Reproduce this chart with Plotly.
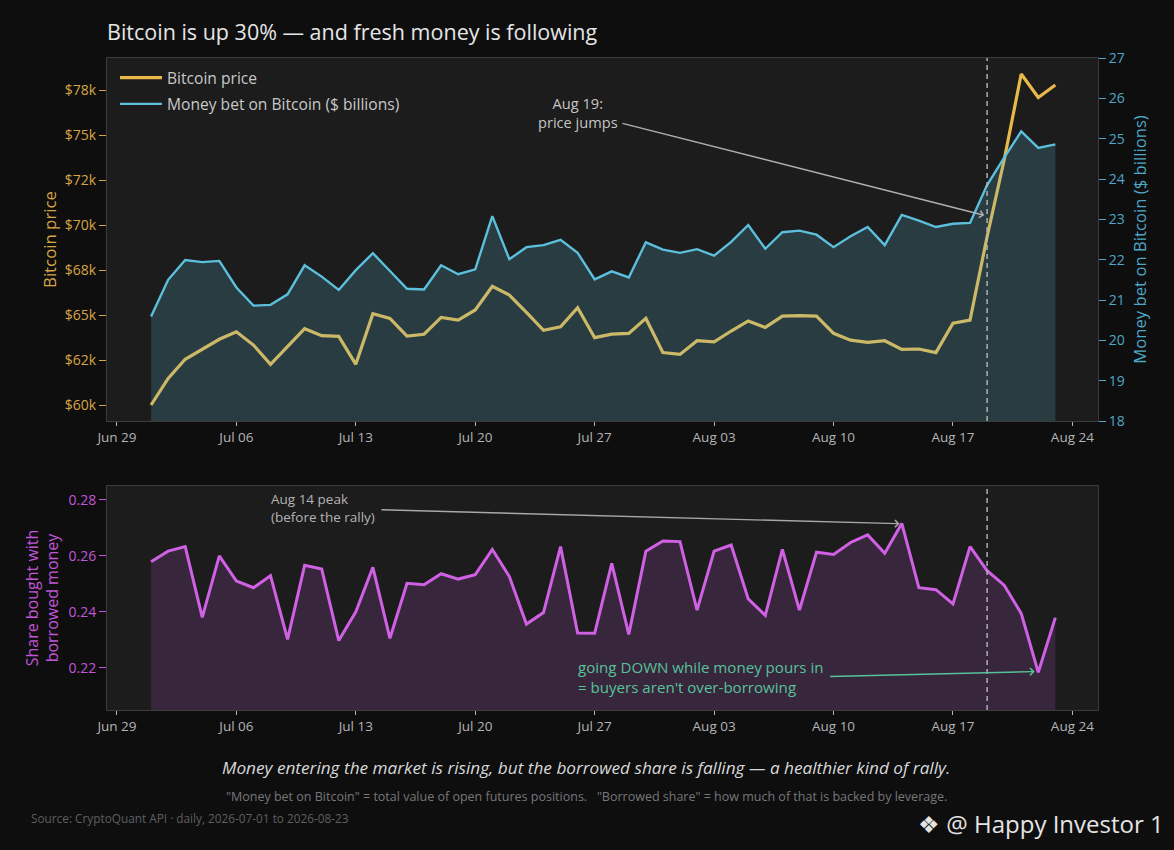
import pandas as pd
import plotly.graph_objs as go

W, H = 1174, 850
FONT = "Open Sans"
BG = "#0e0e0f"
PANEL = "#1c1c1c"
SPINE = "#3c3c3c"
GREY = "#b4b4b4"
YELLOW = "#e8b84a"
BLUE = "#5cbfdc"
PURPLE = "#d060e4"
GREEN = "#57c29a"
YELLOW_TXT = "#d6a545"
BLUE_TXT = "#4fa6c6"
PURPLE_TXT = "#c255d8"

dates = pd.date_range("2026-07-01", "2026-08-23", freq="D")

price = [60000, 61480, 62540, 63110, 63650, 64070, 63330, 62260, 63240, 64240,
         63850, 63810, 62260, 65070, 64810, 63830, 63930, 64870, 64720, 65280,
         66590, 66110, 65150, 64150, 64350, 65410, 63740, 63940, 63980, 64810,
         62910, 62810, 63570, 63510, 64110, 64670, 64310, 64940, 64960, 64940,
         63980, 63600, 63480, 63570, 63090, 63110, 62910, 64540, 64720, 69350,
         73610, 78390, 77080, 77780]

money = [20.59, 21.50, 21.99, 21.94, 21.97, 21.31, 20.86, 20.88, 21.14, 21.86,
         21.58, 21.25, 21.74, 22.16, 21.72, 21.28, 21.26, 21.86, 21.64, 21.76,
         23.08, 22.01, 22.31, 22.36, 22.49, 22.17, 21.51, 21.71, 21.56, 22.43,
         22.25, 22.17, 22.26, 22.10, 22.44, 22.86, 22.27, 22.68, 22.72, 22.62,
         22.31, 22.58, 22.81, 22.36, 23.11, 22.97, 22.81, 22.89, 22.91, 23.85,
         24.53, 25.18, 24.77, 24.86]

borrowed = [0.2579, 0.2617, 0.2633, 0.2380, 0.2600, 0.2510, 0.2486, 0.2529, 0.2301, 0.2566,
            0.2553, 0.2297, 0.2400, 0.2559, 0.2305, 0.2502, 0.2497, 0.2536, 0.2517, 0.2533,
            0.2623, 0.2526, 0.2356, 0.2397, 0.2633, 0.2324, 0.2323, 0.2573, 0.2319, 0.2617,
            0.2653, 0.2651, 0.2406, 0.2617, 0.2639, 0.2446, 0.2387, 0.2623, 0.2406, 0.2613,
            0.2605, 0.2648, 0.2675, 0.2609, 0.2716, 0.2486, 0.2479, 0.2428, 0.2633, 0.2547,
            0.2495, 0.2394, 0.2183, 0.2379]

price_ticks = [60000, 62500, 65000, 67500, 70000, 72500, 75000, 77500]
price_labels = ["$60k", "$62k", "$65k", "$68k", "$70k", "$72k", "$75k", "$78k"]
money_ticks = [18, 19, 20, 21, 22, 23, 24, 25, 26, 27]
borrowed_ticks = [0.22, 0.24, 0.26, 0.28]
jump_day = "2026-08-19"


# pixel position in the page -> paper coords
def px(x):
    return x / W


def py(y):
    return 1 - y / H


fig = go.Figure()

# legendgroups only so tracegroupgap can open up the legend rows
fig.add_trace(go.Scatter(x=dates, y=price, name="Bitcoin price", mode="lines", legendgroup="a",
                         line=dict(color=YELLOW, width=3.2), xaxis="x", yaxis="y"))
# fill is its own trace so the legend only shows the line
fig.add_trace(go.Scatter(x=dates, y=money, mode="lines", showlegend=False, line=dict(width=0),
                         fill="tozeroy", fillcolor="rgba(92,191,220,0.2)", xaxis="x", yaxis="y2"))
fig.add_trace(go.Scatter(x=dates, y=money, name="Money bet on Bitcoin ($ billions)", mode="lines", legendgroup="b",
                         line=dict(color=BLUE, width=2.4), xaxis="x", yaxis="y2"))
fig.add_trace(go.Scatter(x=dates, y=borrowed, mode="lines", showlegend=False,
                         line=dict(color=PURPLE, width=3), fill="tozeroy",
                         fillcolor="rgba(208,96,228,0.16)", xaxis="x2", yaxis="y3"))

x_common = dict(type="date", range=["2026-06-28 10:00", "2026-08-25 12:00"],
                tick0="2026-06-29", dtick=7 * 86400000, tickformat="%b %d",
                ticks="outside", ticklen=4, tickcolor=GREY, showgrid=False, zeroline=False,
                showline=True, linecolor=SPINE, mirror=True, automargin=False,
                tickfont=dict(color=GREY, size=13.5))

fig.update_layout(
    width=W, height=H, margin=dict(l=0, r=0, t=0, b=0),
    paper_bgcolor=BG, plot_bgcolor=PANEL,
    font=dict(family=FONT, color=GREY, size=13),
    xaxis=dict(domain=[px(107), px(1098)], anchor="y", **x_common),
    xaxis2=dict(domain=[px(107), px(1098)], anchor="y3", **x_common),
    yaxis=dict(domain=[py(421), py(58)], range=[59111, 79278], tickvals=price_ticks, ticktext=price_labels,
               ticks="outside", ticklen=7, tickcolor=YELLOW_TXT, showgrid=False, zeroline=False,
               showline=True, linecolor=SPINE, tickfont=dict(color=YELLOW_TXT, size=14), automargin=False,
               title=dict(text="Bitcoin price", font=dict(color=YELLOW_TXT, size=16.8), standoff=3)),
    yaxis2=dict(domain=[py(421), py(58)], range=[18, 27], overlaying="y", side="right", anchor="x",
                tickvals=money_ticks, ticks="outside", ticklen=7, tickcolor=BLUE_TXT, showgrid=False,
                zeroline=False, showline=True, linecolor=SPINE, tickfont=dict(color=BLUE_TXT, size=14),
                automargin=False,
                title=dict(text="Money bet on Bitcoin ($ billions)", font=dict(color=BLUE_TXT, size=16.7), standoff=10)),
    yaxis3=dict(domain=[py(710), py(486)], range=[0.20485, 0.2850], anchor="x2", tickvals=borrowed_ticks,
                tickformat=".2f", ticks="outside", ticklen=7, tickcolor=PURPLE_TXT, showgrid=False,
                zeroline=False, showline=True, linecolor=SPINE, mirror=True, automargin=False,
                tickfont=dict(color=PURPLE_TXT, size=14),
                title=dict(text="Share bought with<br>borrowed money", font=dict(color=PURPLE_TXT, size=16), standoff=5)),
    legend=dict(x=px(115), y=py(61), xanchor="left", yanchor="top", bgcolor="rgba(0,0,0,0)",
                font=dict(color="#c8c8c8", size=15.6), itemwidth=42, tracegroupgap=3),
)

# dashed line on the jump day, both panels
for xref, yref in (("x", "y domain"), ("x2", "y3 domain")):
    fig.add_shape(type="line", x0=jump_day, x1=jump_day, y0=0, y1=1, xref=xref, yref=yref,
                  line=dict(color="#b8b8b8", width=1.4, dash="5px,4px"))


def arrow(xref, yref, tail, head, color):
    fig.add_annotation(x=head[0], y=head[1], ax=tail[0], ay=tail[1], xref=xref, yref=yref,
                       axref=xref, ayref=yref, text="", showarrow=True, arrowhead=4,
                       arrowsize=1, arrowwidth=1.4, arrowcolor=color)


def label(x, y, text, color=GREY, size=13.5, anchor="left", **kw):
    fig.add_annotation(x=px(x), y=py(y), xref="paper", yref="paper", text=text, showarrow=False,
                       xanchor=anchor, yanchor="middle", align=anchor,
                       font=dict(family=kw.pop("family", FONT), color=color, size=size), **kw)


arrow("x", "y2", ("2026-07-28 13:00", 25.39), ("2026-08-18 20:00", 23.10), "#b0b0b0")
arrow("x2", "y3", ("2026-07-14 10:00", 0.2765), ("2026-08-13 21:00", 0.2715), "#a8a8a8")
arrow("x2", "y3", ("2026-08-09 17:00", 0.2168), ("2026-08-21 19:00", 0.2186), GREEN)

label(578, 112, "Aug 19:<br>price jumps", color="#c4c4c4", size=14.6, anchor="center")
label(269, 508, "Aug 14 peak<br>(before the rally)")
label(576, 677, "going DOWN while money pours in<br>= buyers aren't over-borrowing", color=GREEN, size=15.1)

label(105, 32, "Bitcoin is up 30% — and fresh money is following", color="#e6e6e6", size=21.5)
label(586, 767, "<i>Money entering the market is rising, but the borrowed share is falling — a healthier kind of rally.</i>",
      color="#d8d8d8", size=17.2, anchor="center")
label(586, 796, "\"Money bet on Bitcoin\" = total value of open futures positions.   \"Borrowed share\" = how much of that is backed by leverage.",
      color="#777777", size=12.5, anchor="center")
label(29, 818, "Source: CryptoQuant API · daily, 2026-07-01 to 2026-08-23", color="#5f5f5f", size=11.8)
label(1166, 823, "❖ @ Happy Investor 1", color="#e4e4e4", size=24, anchor="right")

fig.write_html("out.html", post_script="document.body.style.margin='0';", config=dict(displayModeBar=False))
